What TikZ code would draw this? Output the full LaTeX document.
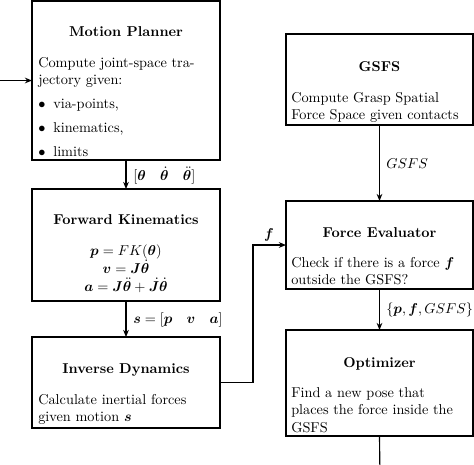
\documentclass[tikz,border=0pt]{standalone}
\usepackage{amsmath}
\usepackage{bm}
\usetikzlibrary{arrows.meta}
\tikzset{
  box/.style={draw, line width=0.8pt, rectangle, inner sep=0pt, outer sep=0pt, fill=white},
  lbox/.style={box, minimum width=131.6pt},
  rbox/.style={box, minimum width=130.9pt},
  ttl/.style={anchor=base, inner sep=0pt, font=\bfseries},
  txt/.style={anchor=base west, inner sep=0pt},
  eq/.style={anchor=base, inner sep=0pt},
  lbl/.style={anchor=base west, inner sep=0pt},
  conn/.style={line width=0.8pt, -{Stealth[length=5pt,width=4pt]}},
  plain/.style={line width=0.8pt}
}
\begin{document}
\begin{tikzpicture}[x=0.7pt,y=-0.7pt]
\clip (0,0) rectangle (474,464);
% boxes
\node[lbox, minimum height=111.3pt] (mp) at (126,80.5) {};
\node[lbox, minimum height=78.4pt] (fk) at (126,245) {};
\node[lbox, minimum height=63.7pt] (id) at (126,382.5) {};
\node[rbox, minimum height=63.7pt] (gs) at (379.5,79.5) {};
\node[rbox, minimum height=61.6pt] (fe) at (379.5,245) {};
\node[rbox, minimum height=74.2pt] (op) at (379.5,383) {};
% Motion Planner
\node[ttl] (mpt) at (126,36) {Motion Planner};
\node[txt] (mp1) at (38,67) {Compute joint-space tra-};
\node[txt] (mp2) at (38,84) {jectory given:};
\node[txt] (mpb1) at (38,108) {$\bullet$\hspace{0.55em}via-points,};
\node[txt] (mpb2) at (38,132) {$\bullet$\hspace{0.55em}kinematics,};
\node[txt] (mpb3) at (38,156) {$\bullet$\hspace{0.55em}limits};
% Forward Kinematics
\node[ttl] (fkt) at (126,224) {Forward Kinematics};
\node[eq] (fk1) at (126,255) {$\bm{p} = FK(\bm{\theta})$};
\node[eq] (fk2) at (126,273) {$\bm{v} = \bm{J}\dot{\bm{\theta}}$};
\node[eq] (fk3) at (126,291) {$\bm{a} = \bm{J}\ddot{\bm{\theta}} + \dot{\bm{J}}\dot{\bm{\theta}}$};
% Inverse Dynamics
\node[ttl] (idt) at (126,373) {Inverse Dynamics};
\node[txt] (id1) at (38,404) {Calculate inertial forces};
\node[txt] (id2) at (38,421.5) {given motion $\bm{s}$};
% GSFS
\node[ttl] (gst) at (379.5,71) {GSFS};
\node[txt] (gs1) at (291,102) {Compute Grasp Spatial};
\node[txt] (gs2) at (291,119) {Force Space given contacts};
% Force Evaluator
\node[ttl] (fet) at (379.5,237) {Force Evaluator};
\node[txt] (fe1) at (291,267) {Check if there is a force $\bm{f}$};
\node[txt] (fe2) at (291,284.5) {outside the GSFS?};
% Optimizer
\node[ttl] (opt) at (379.5,367) {Optimizer};
\node[txt] (op1) at (291,397) {Find a new pose that};
\node[txt] (op2) at (291,414.5) {places the force inside the};
\node[txt] (op3) at (291,432) {GSFS};
% connectors
\coordinate (in) at (-10,80.5);
\coordinate (out) at (380,480);
\coordinate (c1) at (253,382.5);
\coordinate (c2) at (253,245);
\draw[conn] (in) -- (mp.west);
\draw[conn] (mp.south) -- (fk.north);
\draw[conn] (fk.south) -- (id.north);
\draw[conn] (gs.south) -- (fe.north);
\draw[conn] (fe.south) -- (op.north);
\draw[conn] (id.east) -- (c1) -- (c2) -- (fe.west);
\draw[plain] (op.south) -- (out);
% labels
\node[lbl] (l1) at (133,180) {$[\bm{\theta} \quad \dot{\bm{\theta}} \quad \ddot{\bm{\theta}}]$};
\node[lbl] (l2) at (133,323) {$\bm{s} = [\bm{p} \quad \bm{v} \quad \bm{a}]$};
\node[lbl] (l3) at (386,168) {$GSFS$};
\node[lbl] (l4) at (386,313) {$\{\bm{p},\bm{f},GSFS\}$};
\node[eq] (l5) at (269,238) {$\bm{f}$};
\end{tikzpicture}
\end{document}
